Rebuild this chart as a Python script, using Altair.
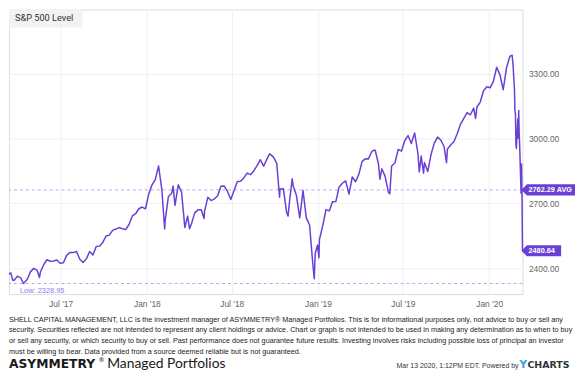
import altair as alt
import pandas as pd

# ---------------- data ----------------
dates = [
    "2017-03-13", "2017-03-17", "2017-03-21", "2017-03-24", "2017-03-31", "2017-04-07", "2017-04-13",
    "2017-04-21", "2017-04-28", "2017-05-05", "2017-05-12", "2017-05-17", "2017-05-19", "2017-05-26",
    "2017-06-02", "2017-06-09", "2017-06-16", "2017-06-23", "2017-06-30", "2017-07-07", "2017-07-14",
    "2017-07-21", "2017-07-28", "2017-08-04", "2017-08-11", "2017-08-18", "2017-08-25", "2017-09-01",
    "2017-09-08", "2017-09-15", "2017-09-22", "2017-09-29", "2017-10-06", "2017-10-13", "2017-10-20",
    "2017-10-27", "2017-11-03", "2017-11-10", "2017-11-17", "2017-11-24", "2017-12-01", "2017-12-08",
    "2017-12-15", "2017-12-22", "2017-12-29",
    "2018-01-05", "2018-01-12", "2018-01-19", "2018-01-26", "2018-02-02", "2018-02-08", "2018-02-09",
    "2018-02-16", "2018-02-23", "2018-02-26", "2018-03-02", "2018-03-09", "2018-03-16", "2018-03-23",
    "2018-03-29", "2018-04-02", "2018-04-06", "2018-04-13", "2018-04-20", "2018-04-27", "2018-05-03",
    "2018-05-04", "2018-05-11", "2018-05-18", "2018-05-25", "2018-06-01", "2018-06-08", "2018-06-15",
    "2018-06-22", "2018-06-29", "2018-07-06", "2018-07-13", "2018-07-20", "2018-07-27", "2018-08-03",
    "2018-08-10", "2018-08-17", "2018-08-24", "2018-08-31", "2018-09-07", "2018-09-14", "2018-09-20",
    "2018-09-28", "2018-10-05", "2018-10-11", "2018-10-12", "2018-10-19", "2018-10-26", "2018-10-29",
    "2018-11-02", "2018-11-07", "2018-11-09", "2018-11-16", "2018-11-23", "2018-11-30", "2018-12-07",
    "2018-12-14", "2018-12-21", "2018-12-24", "2018-12-26", "2018-12-31",
    "2019-01-03", "2019-01-04", "2019-01-11", "2019-01-18", "2019-01-25", "2019-02-01", "2019-02-08",
    "2019-02-15", "2019-02-22", "2019-03-01", "2019-03-08", "2019-03-15", "2019-03-22", "2019-03-29",
    "2019-04-05", "2019-04-12", "2019-04-18", "2019-04-26", "2019-04-30", "2019-05-03", "2019-05-10",
    "2019-05-13", "2019-05-17", "2019-05-24", "2019-05-31", "2019-06-03", "2019-06-07", "2019-06-14",
    "2019-06-21", "2019-06-28", "2019-07-05", "2019-07-12", "2019-07-19", "2019-07-26", "2019-08-02",
    "2019-08-05", "2019-08-09", "2019-08-14", "2019-08-16", "2019-08-23", "2019-08-30", "2019-09-06",
    "2019-09-13", "2019-09-20", "2019-09-27", "2019-10-02", "2019-10-04", "2019-10-11", "2019-10-18",
    "2019-10-25", "2019-11-01", "2019-11-08", "2019-11-15", "2019-11-22", "2019-11-29", "2019-12-03",
    "2019-12-06", "2019-12-13", "2019-12-20", "2019-12-27",
    "2020-01-03", "2020-01-10", "2020-01-17", "2020-01-24", "2020-01-31", "2020-02-07", "2020-02-14",
    "2020-02-19", "2020-02-21", "2020-02-24", "2020-02-25", "2020-02-26", "2020-02-27", "2020-02-28",
    "2020-03-02", "2020-03-03", "2020-03-04", "2020-03-05", "2020-03-06", "2020-03-09", "2020-03-10",
    "2020-03-11", "2020-03-12",
]
closes = [
    2373, 2378, 2344, 2344, 2363, 2355, 2329,
    2349, 2384, 2399, 2390, 2357, 2382, 2416,
    2439, 2432, 2433, 2438, 2423, 2425, 2459,
    2473, 2472, 2477, 2441, 2426, 2443, 2477,
    2461, 2500, 2502, 2519, 2549, 2553, 2575,
    2581, 2588, 2582, 2579, 2602, 2642, 2652,
    2675, 2683, 2674,
    2743, 2786, 2810, 2873, 2762, 2581, 2620,
    2732, 2747, 2780, 2691, 2786, 2752, 2588,
    2641, 2582, 2604, 2656, 2670, 2670, 2630,
    2663, 2728, 2713, 2721, 2735, 2779, 2780,
    2755, 2718, 2760, 2801, 2802, 2819, 2840,
    2833, 2850, 2875, 2902, 2872, 2905, 2930,
    2914, 2885, 2728, 2767, 2768, 2658, 2641,
    2723, 2814, 2781, 2736, 2633, 2760, 2633,
    2600, 2417, 2351, 2468, 2507,
    2448, 2532, 2596, 2671, 2665, 2707, 2708,
    2776, 2793, 2804, 2743, 2822, 2800, 2834,
    2893, 2907, 2905, 2940, 2946, 2946, 2881,
    2812, 2860, 2826, 2752, 2744, 2873, 2887,
    2950, 2942, 2990, 3014, 2977, 3026, 2932,
    2845, 2919, 2840, 2889, 2847, 2926, 2979,
    3007, 2992, 2962, 2888, 2952, 2970, 2986,
    3023, 3067, 3093, 3120, 3110, 3141, 3093,
    3146, 3169, 3221, 3240,
    3235, 3265, 3330, 3295, 3226, 3328, 3380,
    3386, 3338, 3226, 3128, 3116, 2979, 2954,
    3090, 3003, 3130, 3024, 2972, 2747, 2882,
    2741, 2480.64,
]
avg_value = 2762.29
low_value = 2328.95
last_value = 2480.64
y_ticks = [2400, 2700, 3000, 3300]
tag_labels = ["2762.29 AVG", "2480.64"]
low_label = "Low: 2328.95"
chart_title = "S&P 500 Level"
disclaimer_lines = [
    "SHELL CAPITAL MANAGEMENT, LLC is the investment manager of ASYMMETRY\u00ae Managed Portfolios. This is for informational purposes only, not advice to buy or sell any",
    "security. Securities reflected are not intended to represent any client holdings or advice. Chart or graph is not intended to be used in making any determination as to when to buy",
    "or sell any security, or which security to buy or sell. Past performance does not guarantee future results. Investing involves risks including possible loss of principal an investor",
    "must be willing to bear. Data provided from a source deemed reliable but is not guaranteed.",
]
footer_left = ["ASYMMETRY", "\u00ae", "Managed Portfolios"]
footer_right = ["Mar 13 2020, 1:12PM EDT. Powered by", "Y", "CHARTS"]

# ---------------- styling ----------------
W, H = 518, 287
PURPLE = "#6a3fd6"
LIGHT_PURPLE = "#b9a6f2"
SANS = "Liberation Sans"

df = pd.DataFrame({"date": pd.to_datetime(dates), "close": closes})

x_scale = alt.Scale(domain=[alt.DateTime(year=2017, month=3, date=13),
                            alt.DateTime(year=2020, month=3, date=12)])
y_scale = alt.Scale(domain=[2280, 3597], nice=False, zero=False)

x_tick_values = [alt.DateTime(year=2017, month=7, date=1), alt.DateTime(year=2018, month=1, date=1),
                 alt.DateTime(year=2018, month=7, date=1), alt.DateTime(year=2019, month=1, date=1),
                 alt.DateTime(year=2019, month=7, date=1), alt.DateTime(year=2020, month=1, date=1)]

line = alt.Chart(df).mark_line(color=PURPLE, strokeWidth=1.5, strokeJoin="round").encode(
    x=alt.X("date:T", scale=x_scale, title=None,
            axis=alt.Axis(values=x_tick_values, format="%b '%y", grid=True, gridColor="#efefef",
                          ticks=False, domain=False, labelFont=SANS, labelFontSize=8.5,
                          labelColor="#666666", labelPadding=6)),
    y=alt.Y("close:Q", scale=y_scale, title=None,
            axis=alt.Axis(orient="right", values=y_ticks, format=".2f", grid=True, gridColor="#efefef",
                          ticks=False, domain=False, labelFont=SANS, labelFontSize=8.5,
                          labelColor="#666666", labelPadding=6)),
)

ref_df = pd.DataFrame({"v": [avg_value, low_value]})
rules = alt.Chart(ref_df).mark_rule(color=LIGHT_PURPLE, strokeDash=[3, 3], strokeWidth=1).encode(
    y=alt.Y("v:Q", scale=y_scale)
)

low_df = pd.DataFrame({"v": [low_value], "t": [low_label]})
low_text = alt.Chart(low_df).mark_text(align="left", baseline="middle", dy=8, font=SANS,
                                       fontSize=7.5, color="#8f78e8").encode(
    x=alt.value(11), y=alt.Y("v:Q", scale=y_scale), text="t:N"
)

tag_paths = [
    "M -0.1 0 L 0.45 -0.56 L 5.3 -0.56 L 5.3 0.56 L 0.45 0.56 Z",
    "M -0.1 0 L 0.45 -0.56 L 3.9 -0.56 L 3.9 0.56 L 0.45 0.56 Z",
]
tag_df = pd.DataFrame({"v": [avg_value, last_value], "label": tag_labels, "path": tag_paths})
tags = alt.Chart(tag_df).mark_point(filled=True, size=400, opacity=1, strokeWidth=0).encode(
    x=alt.value(W), y=alt.Y("v:Q", scale=y_scale),
    shape=alt.Shape("path:N", scale=None, legend=None), color=alt.value(PURPLE)
)
tag_text = alt.Chart(tag_df).mark_text(align="left", baseline="middle", font=SANS, fontSize=7.4,
                                       fontWeight="bold", color="white").encode(
    x=alt.value(W + 6), y=alt.Y("v:Q", scale=y_scale), text="label:N"
)

title_box = alt.Chart(pd.DataFrame({"t": [chart_title]})).mark_rect(color="#f2f2f2").encode(
    x=alt.value(0), x2=alt.value(74), y=alt.value(0), y2=alt.value(18)
)
title_text = alt.Chart(pd.DataFrame({"t": [chart_title]})).mark_text(
    align="left", baseline="middle", font="Roboto", fontSize=9.3, color="#333333").encode(
    x=alt.value(6), y=alt.value(9), text="t:N"
)

disclaimer = alt.Chart(pd.DataFrame({"k": [0]})).mark_text(
    align="left", baseline="middle", font=SANS, fontSize=7.3, lineHeight=10.7, color="#222222").encode(
    x=alt.value(0), y=alt.value(313), text=alt.value(disclaimer_lines)
)

logo1 = alt.Chart(pd.DataFrame({"t": [footer_left[0]]})).mark_text(
    align="left", baseline="middle", font="DejaVu Sans", fontWeight="bold", fontSize=12.4,
    color="#1a1a1a").encode(x=alt.value(0), y=alt.value(358), text="t:N")
logo2 = alt.Chart(pd.DataFrame({"t": [footer_left[1]]})).mark_text(
    align="left", baseline="middle", font="DejaVu Sans", fontSize=6.5, color="#1a1a1a").encode(
    x=alt.value(90), y=alt.value(354), text="t:N")
logo3 = alt.Chart(pd.DataFrame({"t": [footer_left[2]]})).mark_text(
    align="left", baseline="middle", font="Lato", fontSize=14, color="#1a1a1a").encode(
    x=alt.value(99), y=alt.value(358), text="t:N")

foot1 = alt.Chart(pd.DataFrame({"t": [footer_right[0]]})).mark_text(
    align="right", baseline="middle", font=SANS, fontSize=7, color="#333333").encode(
    x=alt.value(514), y=alt.value(360), text="t:N")
foot2 = alt.Chart(pd.DataFrame({"t": [footer_right[1]]})).mark_text(
    align="left", baseline="middle", font="DejaVu Sans", fontWeight="bold", fontSize=10.5,
    color="#3d9ee0").encode(x=alt.value(515), y=alt.value(359), text="t:N")
foot3 = alt.Chart(pd.DataFrame({"t": [footer_right[2]]})).mark_text(
    align="left", baseline="middle", font="DejaVu Sans", fontWeight="bold", fontSize=9.5,
    color="#333333").encode(x=alt.value(523), y=alt.value(359), text="t:N")

chart = alt.layer(
    rules, line, low_text, tags, tag_text, title_box, title_text,
    disclaimer, logo1, logo2, logo3, foot1, foot2, foot3
).properties(width=W, height=H, padding=0).configure_view(
    stroke="#e6e6e6", strokeWidth=1
).configure(background="white")

chart.save("out.html", embed_options={"renderer": "svg", "actions": False})
